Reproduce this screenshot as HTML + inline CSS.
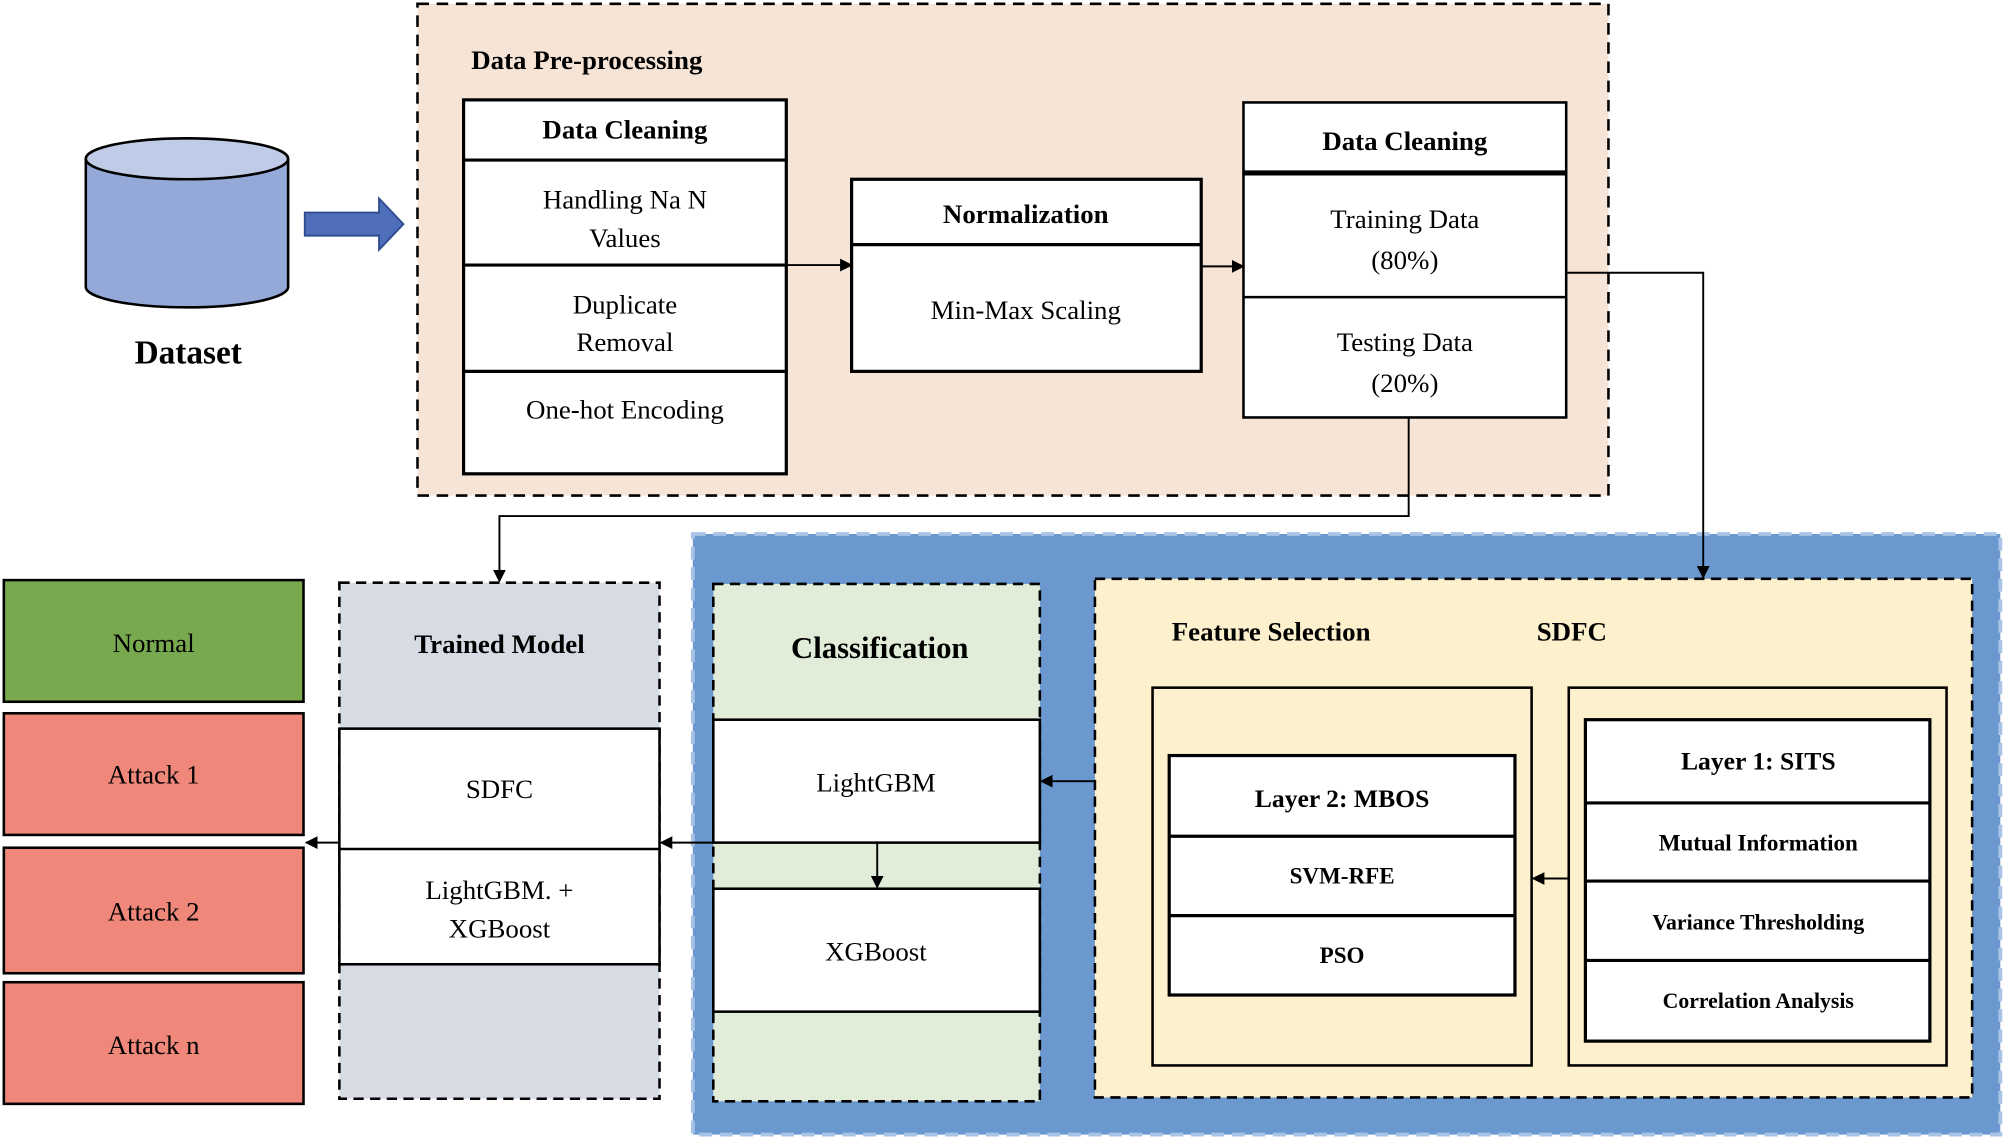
<!DOCTYPE html>
<html><head><meta charset="utf-8"><style>
html,body{margin:0;padding:0;background:#fff}
svg{display:block}
text{font-family:"Liberation Serif",serif;fill:#000}
.b{font-weight:bold}
</style></head><body>
<svg width="2008" height="1141" viewBox="0 0 1568 891" preserveAspectRatio="none" xmlns="http://www.w3.org/2000/svg">
<defs>
<marker id="ah" markerWidth="10" markerHeight="10" refX="9" refY="5" orient="auto" markerUnits="userSpaceOnUse">
<path d="M0,0 L10,5 L0,10 z" fill="#000"/></marker>
</defs>
<!-- Preprocessing -->
<rect x="326" y="3" width="930" height="384" fill="#f6e4d6" stroke="#000" stroke-width="2" stroke-dasharray="9,6"/>
<text x="368" y="54" class="b" font-size="21">Data Pre-processing</text>
<!-- cylinder -->
<path d="M67,124 L67,224 A79,16 0 0 0 225,224 L225,124" fill="#94a9d7" stroke="#000" stroke-width="2"/>
<ellipse cx="146" cy="124" rx="79" ry="16" fill="#bfcbe7" stroke="#000" stroke-width="2"/>
<text x="147" y="284" class="b" font-size="26" text-anchor="middle">Dataset</text>
<path d="M238,166 L296,166 L296,155 L315,175 L296,195 L296,184 L238,184 z" fill="#4f6fba" stroke="#2e4c8f" stroke-width="1.5"/>
<!-- data cleaning left -->
<rect x="362" y="78" width="252" height="292" fill="#fff" stroke="#000" stroke-width="2.5"/>
<line x1="362" y1="125" x2="614" y2="125" stroke="#000" stroke-width="2.5"/>
<line x1="362" y1="207" x2="614" y2="207" stroke="#000" stroke-width="2.5"/>
<line x1="362" y1="290" x2="614" y2="290" stroke="#000" stroke-width="2.5"/>
<g font-size="21" text-anchor="middle">
<text x="488" y="108" class="b">Data Cleaning</text>
<text x="488" y="163">Handling Na N</text>
<text x="488" y="193">Values</text>
<text x="488" y="245">Duplicate</text>
<text x="488" y="274">Removal</text>
<text x="488" y="327">One-hot Encoding</text>
</g>
<line x1="614" y1="207" x2="665" y2="207" stroke="#000" stroke-width="1.5" marker-end="url(#ah)"/>
<!-- normalization -->
<rect x="665" y="140" width="273" height="150" fill="#fff" stroke="#000" stroke-width="2.5"/>
<line x1="665" y1="191" x2="938" y2="191" stroke="#000" stroke-width="2.5"/>
<text x="801" y="174" class="b" font-size="21" text-anchor="middle">Normalization</text>
<text x="801" y="249" font-size="21" text-anchor="middle">Min-Max Scaling</text>
<line x1="938" y1="208" x2="971" y2="208" stroke="#000" stroke-width="1.5" marker-end="url(#ah)"/>
<!-- data cleaning right -->
<rect x="971" y="80" width="252" height="246" fill="#fff" stroke="#000" stroke-width="2"/>
<line x1="971" y1="135" x2="1223" y2="135" stroke="#000" stroke-width="4"/>
<line x1="971" y1="232" x2="1223" y2="232" stroke="#000" stroke-width="2"/>
<g font-size="21" text-anchor="middle">
<text x="1097" y="117" class="b">Data Cleaning</text>
<text x="1097" y="178">Training Data</text>
<text x="1097" y="210">(80%)</text>
<text x="1097" y="274">Testing Data</text>
<text x="1097" y="306">(20%)</text>
</g>
<!-- blue box -->
<rect x="541" y="417" width="1021" height="469" fill="#6a98cf" stroke="#a9c3e6" stroke-width="3" stroke-dasharray="10,6"/>
<!-- classification -->
<rect x="557" y="456" width="255" height="404" fill="#e2edd9" stroke="#000" stroke-width="2" stroke-dasharray="8,5"/>
<text x="687" y="514" class="b" font-size="24" text-anchor="middle">Classification</text>
<rect x="557" y="562" width="255" height="96" fill="#fff" stroke="#000" stroke-width="2"/>
<rect x="557" y="694" width="255" height="96" fill="#fff" stroke="#000" stroke-width="2"/>
<text x="684" y="618" font-size="21" text-anchor="middle">LightGBM</text>
<text x="684" y="750" font-size="21" text-anchor="middle">XGBoost</text>
<line x1="685" y1="658" x2="685" y2="693" stroke="#000" stroke-width="1.5" marker-end="url(#ah)"/>
<line x1="855" y1="610" x2="813" y2="610" stroke="#000" stroke-width="1.5" marker-end="url(#ah)"/>
<!-- SDFC -->
<rect x="855" y="452" width="685" height="405" fill="#fdf0cc" stroke="#000" stroke-width="2" stroke-dasharray="8,5"/>
<text x="915" y="500" class="b" font-size="21">Feature Selection</text>
<text x="1200" y="500" class="b" font-size="21">SDFC</text>
<rect x="900" y="537" width="296" height="295" fill="none" stroke="#000" stroke-width="2"/>
<rect x="1225" y="537" width="295" height="295" fill="none" stroke="#000" stroke-width="2"/>
<rect x="913" y="590" width="270" height="187" fill="#fff" stroke="#000" stroke-width="2.5"/>
<line x1="913" y1="653" x2="1183" y2="653" stroke="#000" stroke-width="2.5"/>
<line x1="913" y1="715" x2="1183" y2="715" stroke="#000" stroke-width="2.5"/>
<g text-anchor="middle">
<text x="1048" y="630" class="b" font-size="20">Layer 2: MBOS</text>
<text x="1048" y="690" class="b" font-size="18">SVM-RFE</text>
<text x="1048" y="752" class="b" font-size="18">PSO</text>
</g>
<rect x="1238" y="562" width="269" height="251" fill="#fff" stroke="#000" stroke-width="2.5"/>
<line x1="1238" y1="627" x2="1507" y2="627" stroke="#000" stroke-width="2.5"/>
<line x1="1238" y1="688" x2="1507" y2="688" stroke="#000" stroke-width="2.5"/>
<line x1="1238" y1="750" x2="1507" y2="750" stroke="#000" stroke-width="2.5"/>
<g text-anchor="middle">
<text x="1373" y="601" class="b" font-size="20">Layer 1: SITS</text>
<text x="1373" y="664" class="b" font-size="18">Mutual Information</text>
<text x="1373" y="726" class="b" font-size="17">Variance Thresholding</text>
<text x="1373" y="787" class="b" font-size="17">Correlation Analysis</text>
</g>
<line x1="1225" y1="686" x2="1197" y2="686" stroke="#000" stroke-width="1.5" marker-end="url(#ah)"/>
<!-- trained model -->
<rect x="265" y="455" width="250" height="403" fill="#d6dbe4" stroke="#000" stroke-width="2" stroke-dasharray="8,5"/>
<text x="390" y="510" class="b" font-size="21" text-anchor="middle">Trained Model</text>
<rect x="265" y="569" width="250" height="184" fill="#fff" stroke="#000" stroke-width="2"/>
<line x1="265" y1="663" x2="515" y2="663" stroke="#000" stroke-width="2"/>
<text x="390" y="623" font-size="21" text-anchor="middle">SDFC</text>
<text x="390" y="702" font-size="21" text-anchor="middle">LightGBM. +</text>
<text x="390" y="732" font-size="21" text-anchor="middle">XGBoost</text>
<line x1="557" y1="658" x2="516" y2="658" stroke="#000" stroke-width="1.5" marker-end="url(#ah)"/>
<line x1="265" y1="658" x2="239" y2="658" stroke="#000" stroke-width="1.5" marker-end="url(#ah)"/>
<!-- outputs -->
<rect x="3" y="453" width="234" height="95" fill="#79a94f" stroke="#000" stroke-width="2"/>
<rect x="3" y="557" width="234" height="95" fill="#ef877a" stroke="#000" stroke-width="2"/>
<rect x="3" y="662" width="234" height="98" fill="#ef877a" stroke="#000" stroke-width="2"/>
<rect x="3" y="767" width="234" height="95" fill="#ef877a" stroke="#000" stroke-width="2"/>
<g font-size="21" text-anchor="middle">
<text x="120" y="509">Normal</text>
<text x="120" y="612">Attack 1</text>
<text x="120" y="719">Attack 2</text>
<text x="120" y="823">Attack n</text>
</g>
<!-- connectors on top -->
<polyline points="1223,213 1330,213 1330,451" fill="none" stroke="#000" stroke-width="1.5" marker-end="url(#ah)"/>
<polyline points="1100,326 1100,403 390,403 390,454" fill="none" stroke="#000" stroke-width="1.5" marker-end="url(#ah)"/>
</svg>
</body></html>
